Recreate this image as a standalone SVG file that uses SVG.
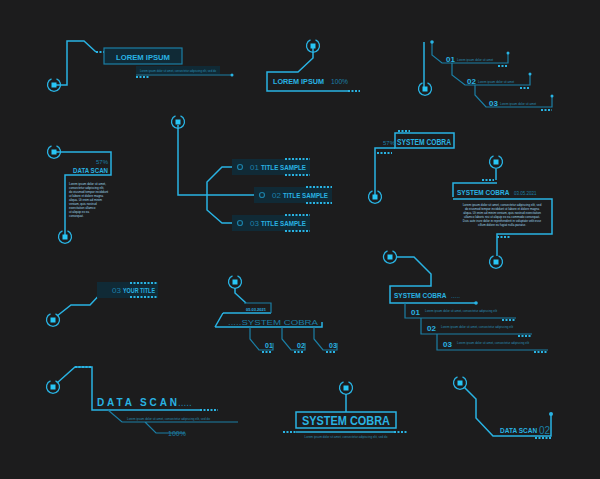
<svg xmlns="http://www.w3.org/2000/svg" width="600" height="479" viewBox="0 0 600 479">
<defs>
<style>
.l{fill:none;stroke:#29b3e3;stroke-width:1.5}
.d{fill:none;stroke:#1b7fa6;stroke-width:1.2}
.dash{fill:none;stroke:#29b3e3;stroke-width:2;stroke-dasharray:2 1.5}
.box{fill:#102a36}
.t{font-family:"Liberation Sans",sans-serif;fill:#29b3e3;font-weight:bold}
.td{font-family:"Liberation Sans",sans-serif;fill:#1b7fa6}
.tdn{fill:#1b7fa6;font-weight:normal}
.s{font-family:"Liberation Sans",sans-serif;fill:#2a8fb5;font-size:3px}
.w{font-family:"Liberation Sans",sans-serif;fill:#9fd6ea;font-size:3px}
</style>
<g id="nd"><path d="M-2.5,-6.2 A6.5,6.5 0 1 0 2.5,-6.2" fill="none" stroke="#29b3e3" stroke-width="1.3"/><rect x="-2.5" y="-2.5" width="5" height="5" fill="#29c6f5"/></g>
</defs>
<rect width="600" height="479" fill="#1c1c1d"/>
<g id="connectors">
<path class="l" d="M54,85H67V41H84L96,52"/><path class="dash" d="M96,52H104"/>
<path class="d" d="M136,67H214M136,75H232"/><circle cx="232" cy="75" r="1.5" fill="#29b3e3"/><path class="dash" d="M136,77H150"/>
<path class="l" d="M313,46V58L298,72H267V91H350"/><path class="dash" d="M348,91H360"/>
<path class="l" d="M424,42V88"/><path class="d" d="M432,42V55L442,63H508V53M452,63V75L465,85H530V74M475,85V95L486,107H552V96"/>
<circle cx="432" cy="42" r="1.8" fill="#29b3e3"/><circle cx="508" cy="53" r="1.5" fill="#29b3e3"/><circle cx="530" cy="74" r="1.5" fill="#29b3e3"/><circle cx="552" cy="96" r="1.5" fill="#29b3e3"/>
<path class="dash" d="M498,66H508M520,88H530M541,110H552"/>
<path class="l" d="M56,152H111V175H65V235"/>
<path class="l" d="M178,125V195H262M236,167H222L207,182V210L222,223H236"/>
<path class="l" d="M375,195V148H395"/><path class="l" d="M395,133H454V148H395Z"/><path class="dash" d="M398,131H410M377,153H392" />
<path class="l" d="M496,169V180M453,197V183H497M453,199H552V234H497V256"/><path class="dash" d="M482,180H494M497,237H510"/>
<path class="l" d="M396,257H414L431,274V286H390V303H476"/><circle cx="476" cy="303" r="1.8" fill="#29b3e3"/>
<path class="d" d="M405,303V318H516M421,318V334H532M437,334V350H548"/><path class="dash" d="M502,320H516M518,336H532M534,352H548"/>
<path class="l" d="M57,316L71,305H90L104,290"/><circle cx="104" cy="290" r="2.5" fill="none" stroke="#29b3e3"/>
<path class="l" d="M235,288V293L246,303M223,313H271M215,327L223,313M215,327H322V322"/><path class="d" d="M244,303H271V313"/>
<path class="d" d="M250,327V339L259,350H273V343M282,327V339L291,350H305V343M314,327V339L323,350H337V343"/>
<path class="dash" d="M262,352H272M294,352H304M326,352H336"/>
<path class="l" d="M57,383L75,367H92V410H200"/><path class="dash" d="M75,367H92M200,410H218"/>
<path class="d" d="M108,410L122,422H238M145,422L156,433H185"/>
<path class="l" d="M346,394V412M296,412H396V428H296Z"/><path class="l" d="M296,432H394"/><path class="dash" d="M283,432H296M394,432H408"/>
<path class="l" d="M464,387L476,399V418L493,436H551V414"/><circle cx="551" cy="414" r="2" fill="#29b3e3"/><path class="dash" d="M535,438H551"/>
</g>
<g id="n1"><use href="#nd" x="54" y="85"/><rect class="box" x="104" y="48" width="78" height="16"/><rect x="104" y="48" width="78" height="16" class="d"/><text class="t" x="116" y="60" font-size="8" textLength="54" lengthAdjust="spacingAndGlyphs">LOREM IPSUM</text><rect class="box" x="136" y="66" width="84" height="8"/><text class="s" x="140" y="71.5" textLength="76" lengthAdjust="spacingAndGlyphs">Lorem ipsum dolor sit amet, consectetur adipiscing elit, sed do</text></g>
<g id="n2"><use href="#nd" x="313" y="46"/><text class="t" x="273" y="84" font-size="8" textLength="51" lengthAdjust="spacingAndGlyphs">LOREM IPSUM</text><text class="td" x="331" y="84" font-size="8" textLength="17" lengthAdjust="spacingAndGlyphs">100%</text></g>
<g id="n3"><use href="#nd" x="425" y="89"/><text class="t" x="446" y="62" font-size="8" font-weight="normal">01</text><text class="s" x="457" y="61">Lorem ipsum dolor sit amet</text><text class="t" x="467" y="84" font-size="8" font-weight="normal">02</text><text class="s" x="478" y="83">Lorem ipsum dolor sit amet</text><text class="t" x="489" y="106" font-size="8" font-weight="normal">03</text><text class="s" x="500" y="105">Lorem ipsum dolor sit amet</text></g>
<g id="n4"><use href="#nd" x="54" y="152"/><use href="#nd" x="65" y="237"/><text class="td" x="108" y="164" font-size="6" text-anchor="end">57%</text><text class="t" x="73" y="173" font-size="8" textLength="35" lengthAdjust="spacingAndGlyphs">DATA SCAN</text>
<text class="w" x="69" y="185">Lorem ipsum dolor sit amet,</text><text class="w" x="69" y="189">consectetur adipiscing elit,</text><text class="w" x="69" y="193">do eiusmod tempor incididunt</text><text class="w" x="69" y="197">ut labore et dolore magna</text><text class="w" x="69" y="201">aliqua. Ut enim ad minim</text><text class="w" x="69" y="205">veniam, quis nostrud</text><text class="w" x="69" y="209">exercitation ullamco</text><text class="w" x="69" y="213">ut aliquip ex ea</text><text class="w" x="69" y="217">consequat.</text></g>
<g id="n5"><use href="#nd" x="178" y="122"/>
<rect class="box" x="232" y="159" width="78" height="16"/><path class="dash" d="M285,159H310M285,175H310"/><circle cx="240" cy="167" r="2.5" class="d"/><text class="td" x="250" y="170" font-size="8">01</text><text class="t" x="261" y="170" font-size="8" textLength="45" lengthAdjust="spacingAndGlyphs">TITLE SAMPLE</text>
<rect class="box" x="254" y="187" width="78" height="16"/><path class="dash" d="M306,187H332M306,203H332"/><circle cx="262" cy="195" r="2.5" class="d"/><text class="td" x="272" y="198" font-size="8">02</text><text class="t" x="283" y="198" font-size="8" textLength="45" lengthAdjust="spacingAndGlyphs">TITLE SAMPLE</text>
<rect class="box" x="232" y="215" width="78" height="16"/><path class="dash" d="M285,215H310M285,231H310"/><circle cx="240" cy="223" r="2.5" class="d"/><text class="td" x="250" y="226" font-size="8">03</text><text class="t" x="261" y="226" font-size="8" textLength="45" lengthAdjust="spacingAndGlyphs">TITLE SAMPLE</text></g>
<g id="n6"><use href="#nd" x="375" y="197"/><text class="td" x="383" y="145" font-size="6">57%</text><text class="t" x="397" y="145" font-size="9" textLength="54" lengthAdjust="spacingAndGlyphs">SYSTEM COBRA</text></g>
<g id="n7"><use href="#nd" x="496" y="162"/><use href="#nd" x="496" y="262"/><text class="t" x="457" y="195" font-size="6.5">SYSTEM COBRA<tspan class="tdn" x="514" font-size="4.5">03.05.2021</tspan></text>
<text class="w" x="502" y="206" text-anchor="middle">Lorem ipsum dolor sit amet, consectetur adipiscing elit, sed</text><text class="w" x="502" y="210" text-anchor="middle">do eiusmod tempor incididunt ut labore et dolore magna</text><text class="w" x="502" y="214" text-anchor="middle">aliqua. Ut enim ad minim veniam, quis nostrud exercitation</text><text class="w" x="502" y="218" text-anchor="middle">ullamco laboris nisi ut aliquip ex ea commodo consequat.</text><text class="w" x="502" y="222" text-anchor="middle">Duis aute irure dolor in reprehenderit in voluptate velit esse</text><text class="w" x="502" y="226" text-anchor="middle">cillum dolore eu fugiat nulla pariatur.</text></g>
<g id="n8"><use href="#nd" x="390" y="257"/><text class="t" x="394" y="298" font-size="6.5">SYSTEM COBRA<tspan class="tdn" x="451">.....</tspan></text>
<text class="t" x="411" y="315" font-size="8" font-weight="normal">01</text><text class="s" x="425" y="312">Lorem ipsum dolor sit amet, consectetur adipiscing elit</text>
<text class="t" x="427" y="331" font-size="8" font-weight="normal">02</text><text class="s" x="441" y="328">Lorem ipsum dolor sit amet, consectetur adipiscing elit</text>
<text class="t" x="443" y="347" font-size="8" font-weight="normal">03</text><text class="s" x="457" y="344">Lorem ipsum dolor sit amet, consectetur adipiscing elit</text></g>
<g id="n9"><use href="#nd" x="53" y="320"/><rect class="box" x="97" y="282" width="61" height="16"/><path class="dash" d="M130,283H158M130,297H158"/><text class="td" x="112" y="293" font-size="8">03</text><text class="t" x="123" y="293" font-size="8" textLength="32" lengthAdjust="spacingAndGlyphs">YOUR TITLE</text></g>
<g id="n10"><use href="#nd" x="235" y="282"/><text class="t" x="246" y="310.5" font-size="4" font-weight="normal">05.03.2021</text><text class="td" x="228" y="325" font-size="8" textLength="90" lengthAdjust="spacingAndGlyphs">.....SYSTEM COBRA</text>
<text class="t" x="265" y="348" font-size="7" font-weight="normal">01</text><text class="t" x="297" y="348" font-size="7" font-weight="normal">02</text><text class="t" x="329" y="348" font-size="7" font-weight="normal">03</text></g>
<g id="n11"><use href="#nd" x="53" y="387"/><text class="t" x="97" y="406" font-size="10" textLength="80" lengthAdjust="spacing">DATA SCAN</text><text class="td" x="178" y="406" font-size="10">.....</text><text class="s" x="127" y="420">Lorem ipsum dolor sit amet, consectetur adipiscing elit, sed do</text><text class="td" x="168" y="436" font-size="7">100%</text></g>
<g id="n12"><use href="#nd" x="346" y="388"/><text class="t" x="346" y="425" font-size="12" text-anchor="middle" textLength="88" lengthAdjust="spacingAndGlyphs">SYSTEM COBRA</text><text class="s" x="346" y="438" text-anchor="middle">Lorem ipsum dolor sit amet, consectetur adipiscing elit, sed do</text></g>
<g id="n13"><use href="#nd" x="460" y="383"/><text class="t" x="500" y="433" font-size="6.5">DATA SCAN<tspan class="tdn" x="539" y="434" font-size="10">02</tspan></text></g>
</svg>
